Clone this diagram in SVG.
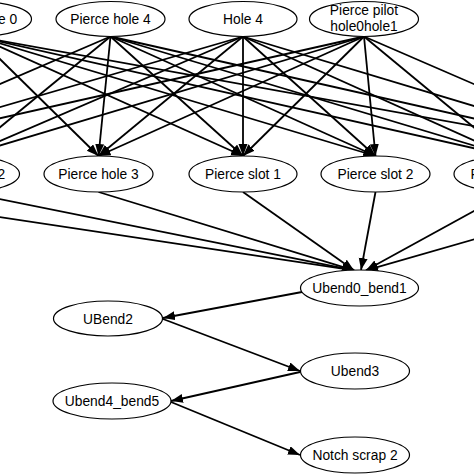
<svg xmlns="http://www.w3.org/2000/svg" width="474" height="474" viewBox="0 0 474 474">
<style>
.n ellipse{fill:#fff;stroke:#000;stroke-width:1.2}
.n text{font-family:"Liberation Sans",Arial,sans-serif;font-size:13.8px;text-anchor:middle;fill:#000}
.e line{stroke:#000;stroke-width:1.8;fill:none;marker-end:url(#ah)}
</style>
<defs>
<marker id="ah" markerUnits="userSpaceOnUse" markerWidth="13" markerHeight="10" refX="12" refY="4.5" orient="auto">
<path d="M0,0 L12,4.5 L0,9 z" fill="#000"/>
</marker>
</defs>
<rect width="474" height="474" fill="#fff"/>
<g id="edges" class="e">
<!-- Pierce hole 0 -->
<line x1="-23" y1="36.5" x2="98.5" y2="156"/>
<line x1="-23" y1="36.5" x2="243" y2="156"/>
<line x1="-23" y1="36.5" x2="375.5" y2="156"/>
<line x1="-23" y1="36.5" x2="508.5" y2="156"/>
<line x1="-23" y1="36.5" x2="640" y2="156"/>
<!-- Pierce hole 4 -->
<line x1="110.5" y1="36.5" x2="-168" y2="156"/>
<line x1="110.5" y1="36.5" x2="-35" y2="156"/>
<line x1="110.5" y1="36.5" x2="98.5" y2="156"/>
<line x1="110.5" y1="36.5" x2="243" y2="156"/>
<line x1="110.5" y1="36.5" x2="375.5" y2="156"/>
<line x1="110.5" y1="36.5" x2="508.5" y2="156"/>
<line x1="110.5" y1="36.5" x2="640" y2="156"/>
<!-- Hole 4 -->
<line x1="243" y1="36.5" x2="-168" y2="156"/>
<line x1="243" y1="36.5" x2="-35" y2="156"/>
<line x1="243" y1="36.5" x2="98.5" y2="156"/>
<line x1="243" y1="36.5" x2="243" y2="156"/>
<line x1="243" y1="36.5" x2="375.5" y2="156"/>
<line x1="243" y1="36.5" x2="508.5" y2="156"/>
<line x1="243" y1="36.5" x2="640" y2="156"/>
<!-- Pierce pilot -->
<line x1="364" y1="36.5" x2="-168" y2="156"/>
<line x1="364" y1="36.5" x2="-35" y2="156"/>
<line x1="364" y1="36.5" x2="98.5" y2="156"/>
<line x1="364" y1="36.5" x2="243" y2="156"/>
<line x1="364" y1="36.5" x2="375.5" y2="156"/>
<line x1="364" y1="36.5" x2="508.5" y2="156"/>
<line x1="364" y1="36.5" x2="640" y2="156"/>
<!-- second row to Ubend0_bend1 -->
<line x1="-168" y1="192" x2="354" y2="270.3"/>
<line x1="-35" y1="192" x2="354" y2="270.3"/>
<line x1="98.5" y1="192" x2="354" y2="270.3"/>
<line x1="243" y1="192" x2="354" y2="270.3"/>
<line x1="375.5" y1="192" x2="361" y2="270"/>
<line x1="508.5" y1="192" x2="366" y2="270.3"/>
<line x1="640" y1="192" x2="366" y2="270.3"/>
<!-- chain -->
<line x1="302" y1="292" x2="163" y2="318"/>
<line x1="163" y1="319" x2="300" y2="371"/>
<line x1="300" y1="372" x2="171" y2="401"/>
<line x1="171" y1="402" x2="300" y2="455"/>
</g>
<g id="n-pierce-hole-0" class="n"><ellipse cx="-23" cy="19" rx="54.5" ry="17.5"/><text x="-23" y="24">Pierce hole 0</text></g>
<g id="n-pierce-hole-4" class="n"><ellipse cx="110.5" cy="19" rx="54.5" ry="17.5"/><text x="110.5" y="24">Pierce hole 4</text></g>
<g id="n-hole-4" class="n"><ellipse cx="243" cy="19" rx="54" ry="17.5"/><text x="243" y="24">Hole 4</text></g>
<g id="n-pierce-pilot" class="n"><ellipse cx="364" cy="19" rx="54.5" ry="17.5"/><text x="364" y="15">Pierce pilot</text><text x="364" y="31">hole0hole1</text></g>
<g id="n-pierce-hole-2" class="n"><ellipse cx="-35" cy="174" rx="54.5" ry="18"/><text x="-35" y="179">Pierce hole 2</text></g>
<g id="n-pierce-hole-3" class="n"><ellipse cx="98.5" cy="174" rx="54.5" ry="18"/><text x="98.5" y="179">Pierce hole 3</text></g>
<g id="n-pierce-slot-1" class="n"><ellipse cx="243" cy="174" rx="54" ry="18"/><text x="243" y="179">Pierce slot 1</text></g>
<g id="n-pierce-slot-2" class="n"><ellipse cx="375.5" cy="174" rx="54.5" ry="18"/><text x="375.5" y="179">Pierce slot 2</text></g>
<g id="n-pierce-slot-3" class="n"><ellipse cx="508.5" cy="174" rx="54.5" ry="18"/><text x="508.5" y="179">Pierce slot 3</text></g>
<g id="n-ubend0-bend1" class="n"><ellipse cx="359.5" cy="288" rx="59" ry="18"/><text x="359.5" y="293">Ubend0_bend1</text></g>
<g id="n-ubend2" class="n"><ellipse cx="108" cy="318.5" rx="54.5" ry="17.5"/><text x="108" y="323.5">UBend2</text></g>
<g id="n-ubend3" class="n"><ellipse cx="355" cy="371" rx="54.5" ry="18"/><text x="355" y="376">Ubend3</text></g>
<g id="n-ubend4-bend5" class="n"><ellipse cx="112" cy="401" rx="59" ry="18"/><text x="112" y="406">Ubend4_bend5</text></g>
<g id="n-notch-scrap-2" class="n"><ellipse cx="355" cy="455" rx="54.5" ry="18"/><text x="355" y="460">Notch scrap 2</text></g>
</svg>
